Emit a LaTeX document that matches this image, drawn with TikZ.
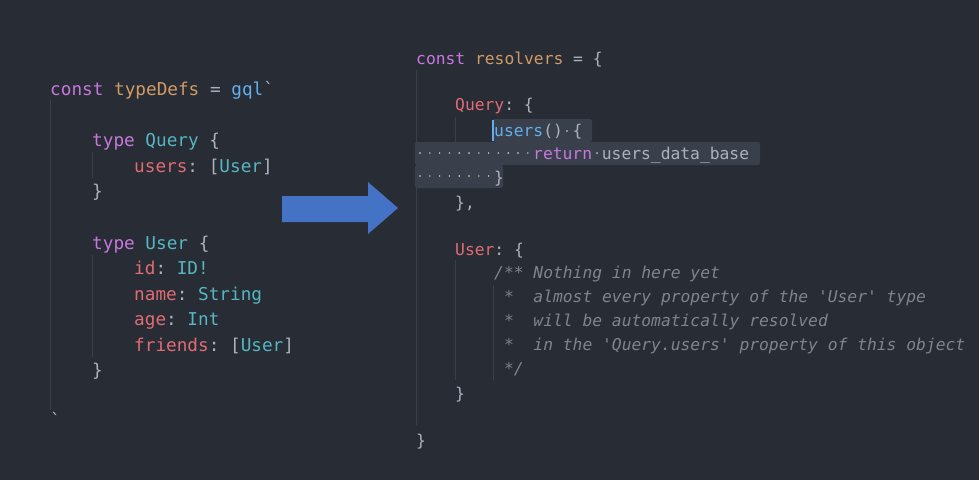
\documentclass[tikz,border=0pt]{standalone}
\usepackage{fontspec}
\setmonofont{DejaVu Sans Mono}
\usetikzlibrary{positioning}
\definecolor{bg}{HTML}{282C34}
\definecolor{kw}{HTML}{C678DD}
\definecolor{vr}{HTML}{D19A66}
\definecolor{fn}{HTML}{61AFEF}
\definecolor{ty}{HTML}{56B6C2}
\definecolor{pr}{HTML}{E06C75}
\definecolor{pl}{HTML}{ABB2BF}
\definecolor{cm}{HTML}{7F848E}
\definecolor{guide}{HTML}{3B4048}
\definecolor{sel}{HTML}{3A404B}
\definecolor{arrowblue}{HTML}{4472C4}
\newcommand{\K}[1]{\textcolor{kw}{#1}}
\newcommand{\V}[1]{\textcolor{vr}{#1}}
\newcommand{\F}[1]{\textcolor{fn}{#1}}
\newcommand{\T}[1]{\textcolor{ty}{#1}}
\newcommand{\R}[1]{\textcolor{pr}{#1}}
\newcommand{\bq}{\symbol{96}}
\newcommand{\sq}{\symbol{39}}
\begin{document}
\begin{tikzpicture}[x=1pt,y=-1pt]
  \tikzset{lcode/.style = {anchor=base west,inner sep=0pt,text=pl,font=\ttfamily\fontsize{17.7}{20}\selectfont}}
  \tikzset{rcode/.style = {anchor=base west,inner sep=0pt,text=pl,font=\ttfamily\fontsize{16.3}{20}\selectfont}}
  \tikzset{ccode/.style = {rcode,text=cm,font=\ttfamily\itshape\fontsize{16.3}{20}\selectfont}}
  \tikzset{guideline/.style = {draw=guide,line width=1pt}}
  \tikzset{wsdots/.style = {draw=pl!40,line width=1.6pt,line cap=round,dash pattern=on 0pt off 9.8pt}}

  \fill[bg] (0,0) rectangle (979,480);

  % selection
  \fill[sel,rounded corners=2pt] (493,119) rectangle (592,142);
  \fill[sel,rounded corners=2pt] (415,142) rectangle (760,165);
  \fill[sel,rounded corners=2pt] (415,165) rectangle (503,188);
  \draw[wsdots] (420,153) -- (530,153);
  \draw[wsdots] (420,176) -- (492,176);
  \draw[wsdots] (567,131) -- (569,131);
  \draw[wsdots] (597,153) -- (599,153);

  % indent guides
  \draw[guideline] (50,100) -- (50,410);
  \draw[guideline] (92,152) -- (92,178);
  \draw[guideline] (92,255) -- (92,357);
  \draw[guideline] (416,70) -- (416,425);
  \draw[guideline] (455,117) -- (455,188);
  \draw[guideline] (455,260) -- (455,380);
  \draw[guideline] (493,142) -- (493,188);
  \draw[guideline] (493,285) -- (493,380);
  \draw[fn,line width=1.2pt] (493,120) -- (493,141);

  % left code
  \node[lcode] (l1) at (50,95) {\K{const} \V{typeDefs} = \F{gql}\bq};
  \node[lcode] (l2) at (92,146) {\K{type} \T{Query} \{};
  \node[lcode] (l3) at (134,172) {\R{users}: [\T{User}]};
  \node[lcode] (l4) at (92,197) {\}};
  \node[lcode] (l5) at (92,249) {\K{type} \T{User} \{};
  \node[lcode] (l6) at (134,274) {\R{id}: \T{ID!}};
  \node[lcode] (l7) at (134,300) {\R{name}: \T{String}};
  \node[lcode] (l8) at (134,325) {\R{age}: \T{Int}};
  \node[lcode] (l9) at (134,351) {\R{friends}: [\T{User}]};
  \node[lcode] (l10) at (92,376) {\}};
  \node[lcode] (l11) at (50,426) {\bq};

  % right code
  \node[rcode] (r1) at (416,64) {\K{const} \V{resolvers} = \{};
  \node[rcode] (r2) at (455,110) {\R{Query}: \{};
  \node[rcode] (r3) at (494,136) {\F{users}() \{};
  \node[rcode] (r4) at (533,159) {\K{return} users\_data\_base};
  \node[rcode] (r5) at (494,183) {\}};
  \node[rcode] (r6) at (455,208) {\},};
  \node[rcode] (r7) at (455,255) {\R{User}: \{};
  \node[ccode] (r8) at (494,278) {/** Nothing in here yet};
  \node[ccode] (r9) at (494,302) {\ *\ \ almost every property of the \sq User\sq{} type};
  \node[ccode] (r10) at (494,326) {\ *\ \ will be automatically resolved};
  \node[ccode] (r11) at (494,350) {\ *\ \ in the \sq Query.users\sq{} property of this object};
  \node[ccode] (r12) at (494,374) {\ */};
  \node[rcode] (r13) at (455,399) {\}};
  \node[rcode] (r14) at (416,446) {\}};

  % arrow
  \fill[arrowblue] (282,196) -- (368,196) -- (368,182) -- (398,208) -- (368,234) -- (368,222) -- (282,222) -- cycle;
\end{tikzpicture}
\end{document}
